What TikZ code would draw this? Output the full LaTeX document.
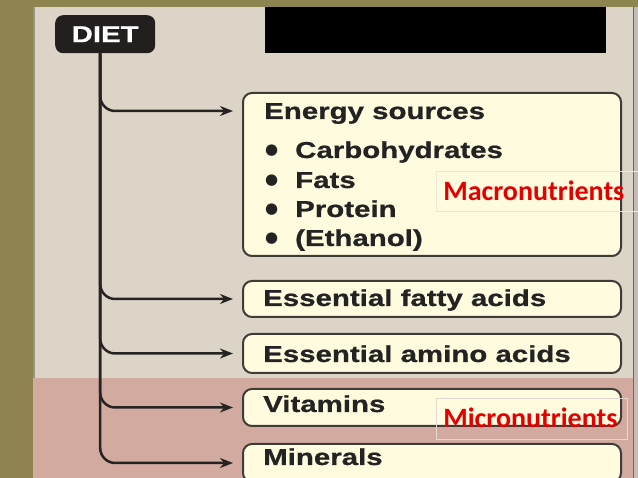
\documentclass[tikz,border=0pt]{standalone}
\usepackage{fontspec}
\setmainfont{Liberation Sans}
\newfontfamily\boxfont[FakeStretch=1.28, BoldFeatures={FakeBold=0.8}]{Liberation Sans}
\newfontfamily\labfont{Carlito}
\newfontfamily\symfont{DejaVu Sans}
\usetikzlibrary{arrows.meta,calc}
\definecolor{olivebg}{RGB}{142,132,80}
\definecolor{panel}{RGB}{221,212,200}
\definecolor{pinkbg}{RGB}{211,170,160}
\definecolor{rightgray}{RGB}{196,188,182}
\definecolor{panelline}{RGB}{110,104,98}
\definecolor{boxfill}{RGB}{255,251,222}
\definecolor{boxline}{RGB}{62,60,55}
\definecolor{txt}{RGB}{35,35,35}
\definecolor{linecol}{RGB}{38,36,34}
\definecolor{dietfill}{RGB}{34,31,30}
\definecolor{redlab}{RGB}{228,0,0}
\definecolor{faintA}{RGB}{236,232,214}
\definecolor{faintB}{RGB}{228,215,210}
\newcommand{\bul}{\makebox[31pt][l]{\hspace{1pt}\raisebox{3.5pt}{\symfont\fontsize{15}{15}\selectfont ●}}}
\tikzset{
  boxitem/.style={draw=boxline, fill=boxfill, line width=2pt, rounded corners=9pt,
    minimum width=378pt, anchor=north west, inner sep=0pt},
  boxtext/.style={anchor=base west, inner sep=0pt, text=txt,
    font=\boxfont\bfseries\fontsize{23}{23}\selectfont},
  redtext/.style={anchor=north west, text=redlab, line width=0.7pt,
    font=\labfont\bfseries\fontsize{28}{28}\selectfont,
    inner xsep=7pt, text height=18pt, text depth=0pt, align=left},
  conn/.style={draw=linecol, line width=2.5pt, rounded corners=15pt,
    -{Stealth[length=13pt,width=10pt]}}
}
\begin{document}
\begin{tikzpicture}[x=1pt,y=-1pt]
\useasboundingbox (0,0) rectangle (638,478);
% background
\fill[olivebg] (0,0) rectangle (638,478);
\fill[panel] (33,7) rectangle (633,478);
\fill[rightgray] (633,7) rectangle (638,478);
\fill[pinkbg] (33,378) rectangle (633,478);
\draw[panelline, line width=1.5pt] (633.5,7) -- (633.5,478);
\draw[panelline!60!panel, line width=1.5pt] (34,7) -- (34,378);
\fill[black] (265,7) rectangle (606,53);
% DIET
\node[fill=dietfill, rounded corners=8pt, minimum width=100pt, minimum height=38pt,
  anchor=north west, inner sep=0pt, text=white,
  font=\boxfont\bfseries\fontsize{23}{23}\selectfont] (diet) at (55,15) {DIET};
\coordinate (foot) at ([xshift=-5pt]diet.south);
% boxes
\node[boxitem, minimum height=163pt] (b1) at (242,92) {};
\node[boxitem, minimum height=36pt] (b2) at (242,280) {};
\node[boxitem, minimum height=39pt] (b3) at (242,333) {};
\node[boxitem, minimum height=37pt] (b4) at (242,388) {};
\node[boxitem, minimum height=38pt] (b5) at (242,443) {};
% texts
\node[boxtext] (t1) at (264,119) {Energy sources};
\node[boxtext] (t1a) at (264,158) {\bul Carbohydrates};
\node[boxtext] (t1b) at (264,188) {\bul Fats};
\node[boxtext] (t1c) at (264,217) {\bul Protein};
\node[boxtext] (t1d) at (264,246) {\bul (Ethanol)};
\node[boxtext] (t2) at (263,306) {Essential fatty acids};
\node[boxtext] (t3) at (263,362) {Essential amino acids};
\node[boxtext] (t4) at (263,412) {Vitamins};
\node[boxtext] (t5) at (263,465) {Minerals};
% red labels
\node[redtext, draw=faintA, minimum height=40pt, text width=196pt] (macro) at (436,171) {Macronutrients};
\node[redtext, draw=faintB, minimum height=41pt, text width=177pt] (micro) at (436,398) {Micronutrients};
% connectors
\coordinate (e1) at ($(b1.north west)+(-9,19)$);
\draw[conn] (foot) |- (e1);
\draw[conn, shorten >=9pt] (foot) |- (b2.west);
\draw[conn, shorten >=9pt] (foot) |- (b3.west);
\draw[conn, shorten >=9pt] (foot) |- (b4.west);
\draw[conn, shorten >=9pt] (foot) |- (b5.west);
\end{tikzpicture}
\end{document}
